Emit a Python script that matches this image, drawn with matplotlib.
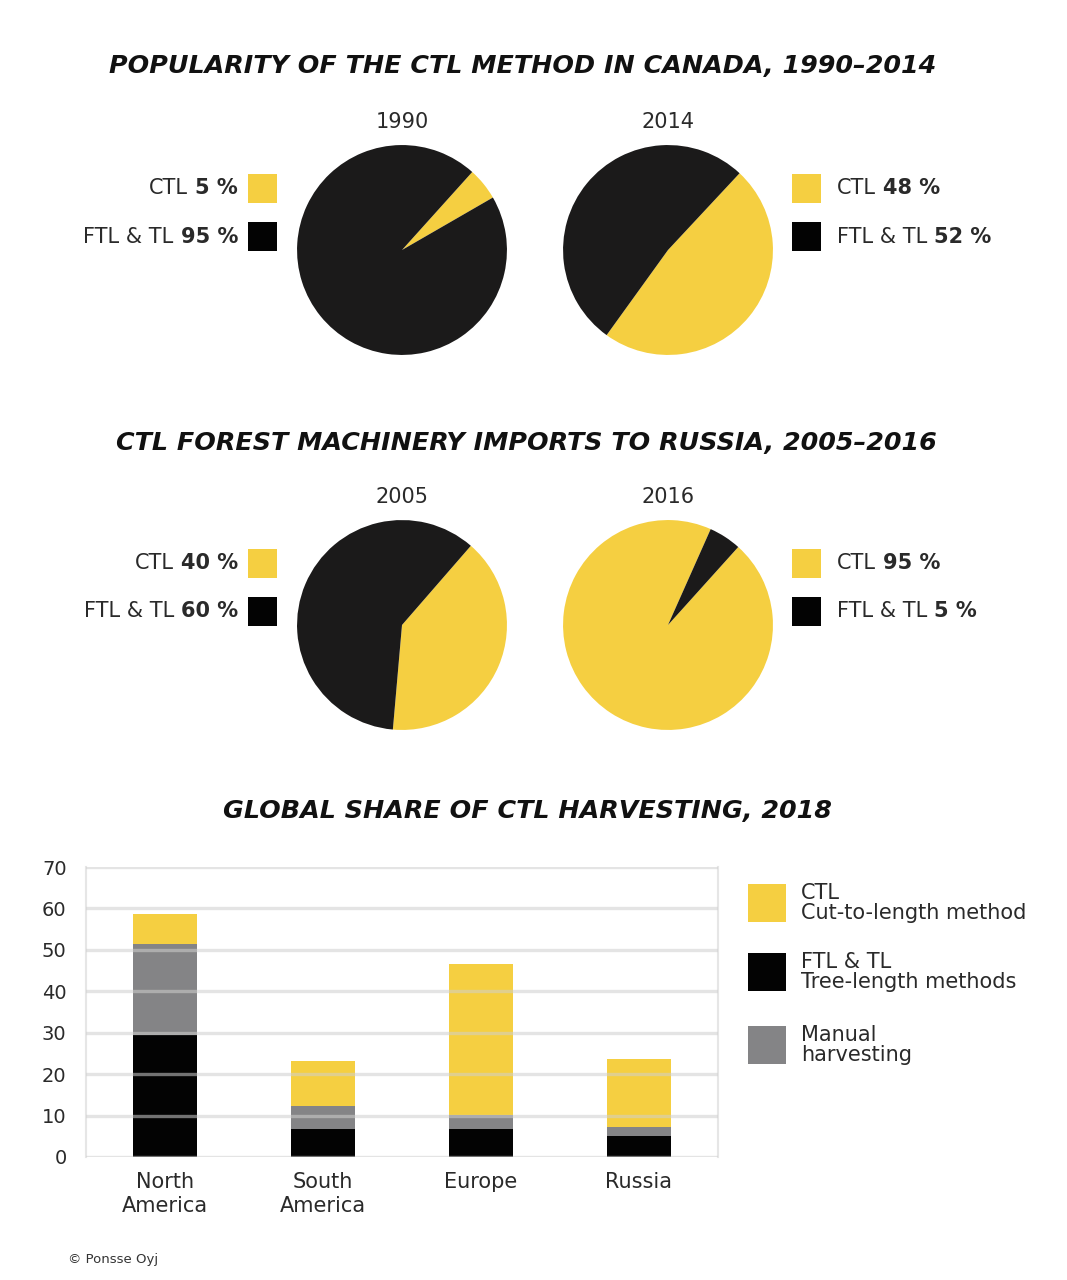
import matplotlib
matplotlib.use("Agg")
import matplotlib.pyplot as plt
import numpy as np

# Pie data (CTL share, FTL & TL share)
canada_years = ["1990", "2014"]
canada_ctl = [5, 48]
canada_ftl = [95, 52]

russia_years = ["2005", "2016"]
russia_ctl = [40, 95]
russia_ftl = [60, 5]

# Bar data
regions = ["North\nAmerica", "South\nAmerica", "Europe", "Russia"]
ftl_tl = [29.5, 6.7, 6.7, 5.0]
manual = [22.0, 5.5, 3.5, 2.2]
ctl = [7.2, 10.9, 36.4, 16.4]

YELLOW = "#f5cf41"
BLACK = "#1b1a1a"
BAR_BLACK = "#030303"
GRAY = "#848486"
TEXT = "#2a2a2a"

W, H = 1067, 1280
fig = plt.figure(figsize=(W / 100, H / 100), dpi=100)
fig.patch.set_facecolor("white")


def fx(x):
    return x / W


def fy(y):
    return 1 - y / H


def px_axes(left, top, width, height):
    return fig.add_axes([left / W, 1 - (top + height) / H, width / W, height / H])


TITLE_FONT = dict(fontsize=18.3, fontweight="heavy", fontstyle="italic",
                  family=["DejaVu Sans"], color="#111111")

fig.text(fx(523), fy(66), "POPULARITY OF THE CTL METHOD IN CANADA, 1990\u20132014",
         ha="center", va="center", **TITLE_FONT)
fig.text(fx(526), fy(443), "CTL FOREST MACHINERY IMPORTS TO RUSSIA, 2005\u20132016",
         ha="center", va="center", **TITLE_FONT)
fig.text(fx(527), fy(811), "GLOBAL SHARE OF CTL HARVESTING, 2018",
         ha="center", va="center", **TITLE_FONT)

FS = 15


def draw_pie(cx, cy, ctl_val, ftl_val, start, year):
    ax = px_axes(cx - 106, cy - 106, 212, 212)
    ax.pie([ctl_val, ftl_val], colors=[YELLOW, BLACK], startangle=start,
           counterclock=False, radius=1.0, wedgeprops=dict(linewidth=0))
    ax.set_xlim(-1.01, 1.01)
    ax.set_ylim(-1.01, 1.01)
    ax.set_aspect("equal")
    ax.axis("off")
    fig.text(fx(cx), fy(cy - 128), year, ha="center", va="center",
             fontsize=FS, color=TEXT)


def legend_left(y, name, value):
    bold = fig.text(fx(238), fy(y), value, ha="right", va="center",
                    fontsize=FS, fontweight="bold", color=TEXT)
    plt.annotate(name, xy=(0, 0), xycoords=bold, xytext=(-5, 0),
                 textcoords="offset points", ha="right", va="bottom",
                 fontsize=FS, color=TEXT)


def legend_right(y, name, value):
    reg = fig.text(fx(837), fy(y), name, ha="left", va="center",
                   fontsize=FS, color=TEXT)
    plt.annotate(value, xy=(1, 0), xycoords=reg, xytext=(5, 0),
                 textcoords="offset points", ha="left", va="bottom",
                 fontsize=FS, fontweight="bold", color=TEXT)


def square(x, y, size, color):
    sq = plt.Rectangle((fx(x), fy(y + size)), size / W, size / H,
                       transform=fig.transFigure, facecolor=color,
                       edgecolor="none")
    fig.patches.append(sq)


# Canada pies
draw_pie(402, 250, canada_ctl[0], canada_ftl[0], 48, canada_years[0])
draw_pie(668, 250, canada_ctl[1], canada_ftl[1], 47, canada_years[1])
legend_left(188, "CTL", f"{canada_ctl[0]} %")
legend_left(237, "FTL & TL", f"{canada_ftl[0]} %")
square(248, 174, 29, YELLOW)
square(248, 222, 29, BAR_BLACK)
legend_right(188, "CTL", f"{canada_ctl[1]} %")
legend_right(237, "FTL & TL", f"{canada_ftl[1]} %")
square(792, 174, 29, YELLOW)
square(792, 222, 29, BAR_BLACK)

# Russia pies
draw_pie(402, 625, russia_ctl[0], russia_ftl[0], 49, russia_years[0])
draw_pie(668, 625, russia_ctl[1], russia_ftl[1], 48, russia_years[1])
legend_left(563, "CTL", f"{russia_ctl[0]} %")
legend_left(611, "FTL & TL", f"{russia_ftl[0]} %")
square(248, 549, 29, YELLOW)
square(248, 597, 29, BAR_BLACK)
legend_right(563, "CTL", f"{russia_ctl[1]} %")
legend_right(611, "FTL & TL", f"{russia_ftl[1]} %")
square(792, 549, 29, YELLOW)
square(792, 597, 29, BAR_BLACK)

# Stacked bar chart
ax = px_axes(86, 867, 632, 290)
x = np.arange(len(regions))
bw = 0.41
ftl_arr = np.array(ftl_tl)
man_arr = np.array(manual)
ctl_arr = np.array(ctl)
ax.bar(x, ftl_arr, bw, color=BAR_BLACK, linewidth=0, zorder=1)
ax.bar(x, man_arr, bw, bottom=ftl_arr, color=GRAY, linewidth=0, zorder=1)
ax.bar(x, ctl_arr, bw, bottom=ftl_arr + man_arr, color=YELLOW, linewidth=0, zorder=1)
ax.set_xlim(-0.5, 3.5)
ax.set_ylim(0, 70)
ax.set_yticks(range(0, 71, 10))
ax.set_xticks(x)
ax.set_xticklabels(regions)
ax.set_axisbelow(False)
ax.yaxis.grid(True, color="#cfcfcf", alpha=0.55, linewidth=2.4, zorder=3)
ax.xaxis.grid(False)
for side in ["top", "bottom"]:
    ax.spines[side].set_visible(False)
for side in ["left", "right"]:
    ax.spines[side].set_color("#e6e6e6")
    ax.spines[side].set_linewidth(1.5)
ax.tick_params(axis="both", length=0, labelsize=14, labelcolor=TEXT)
ax.tick_params(axis="y", pad=14)
ax.tick_params(axis="x", pad=11)
for lab in ax.get_xticklabels():
    lab.set_fontsize(15)
    lab.set_linespacing(1.25)

# Bar legend
leg_items = [(884, YELLOW, "CTL\nCut-to-length method"),
             (953, BAR_BLACK, "FTL & TL\nTree-length methods"),
             (1026, GRAY, "Manual\nharvesting")]
for top, color, label in leg_items:
    square(748, top, 38, color)
    fig.text(fx(801), fy(top + 19), label, ha="left", va="center",
             fontsize=FS, color=TEXT, linespacing=1.0)

fig.text(fx(68), fy(1260), "\u00a9 Ponsse Oyj", ha="left", va="center",
         fontsize=9.5, color="#333333")

fig.savefig("out.png", dpi=100, facecolor="white")
